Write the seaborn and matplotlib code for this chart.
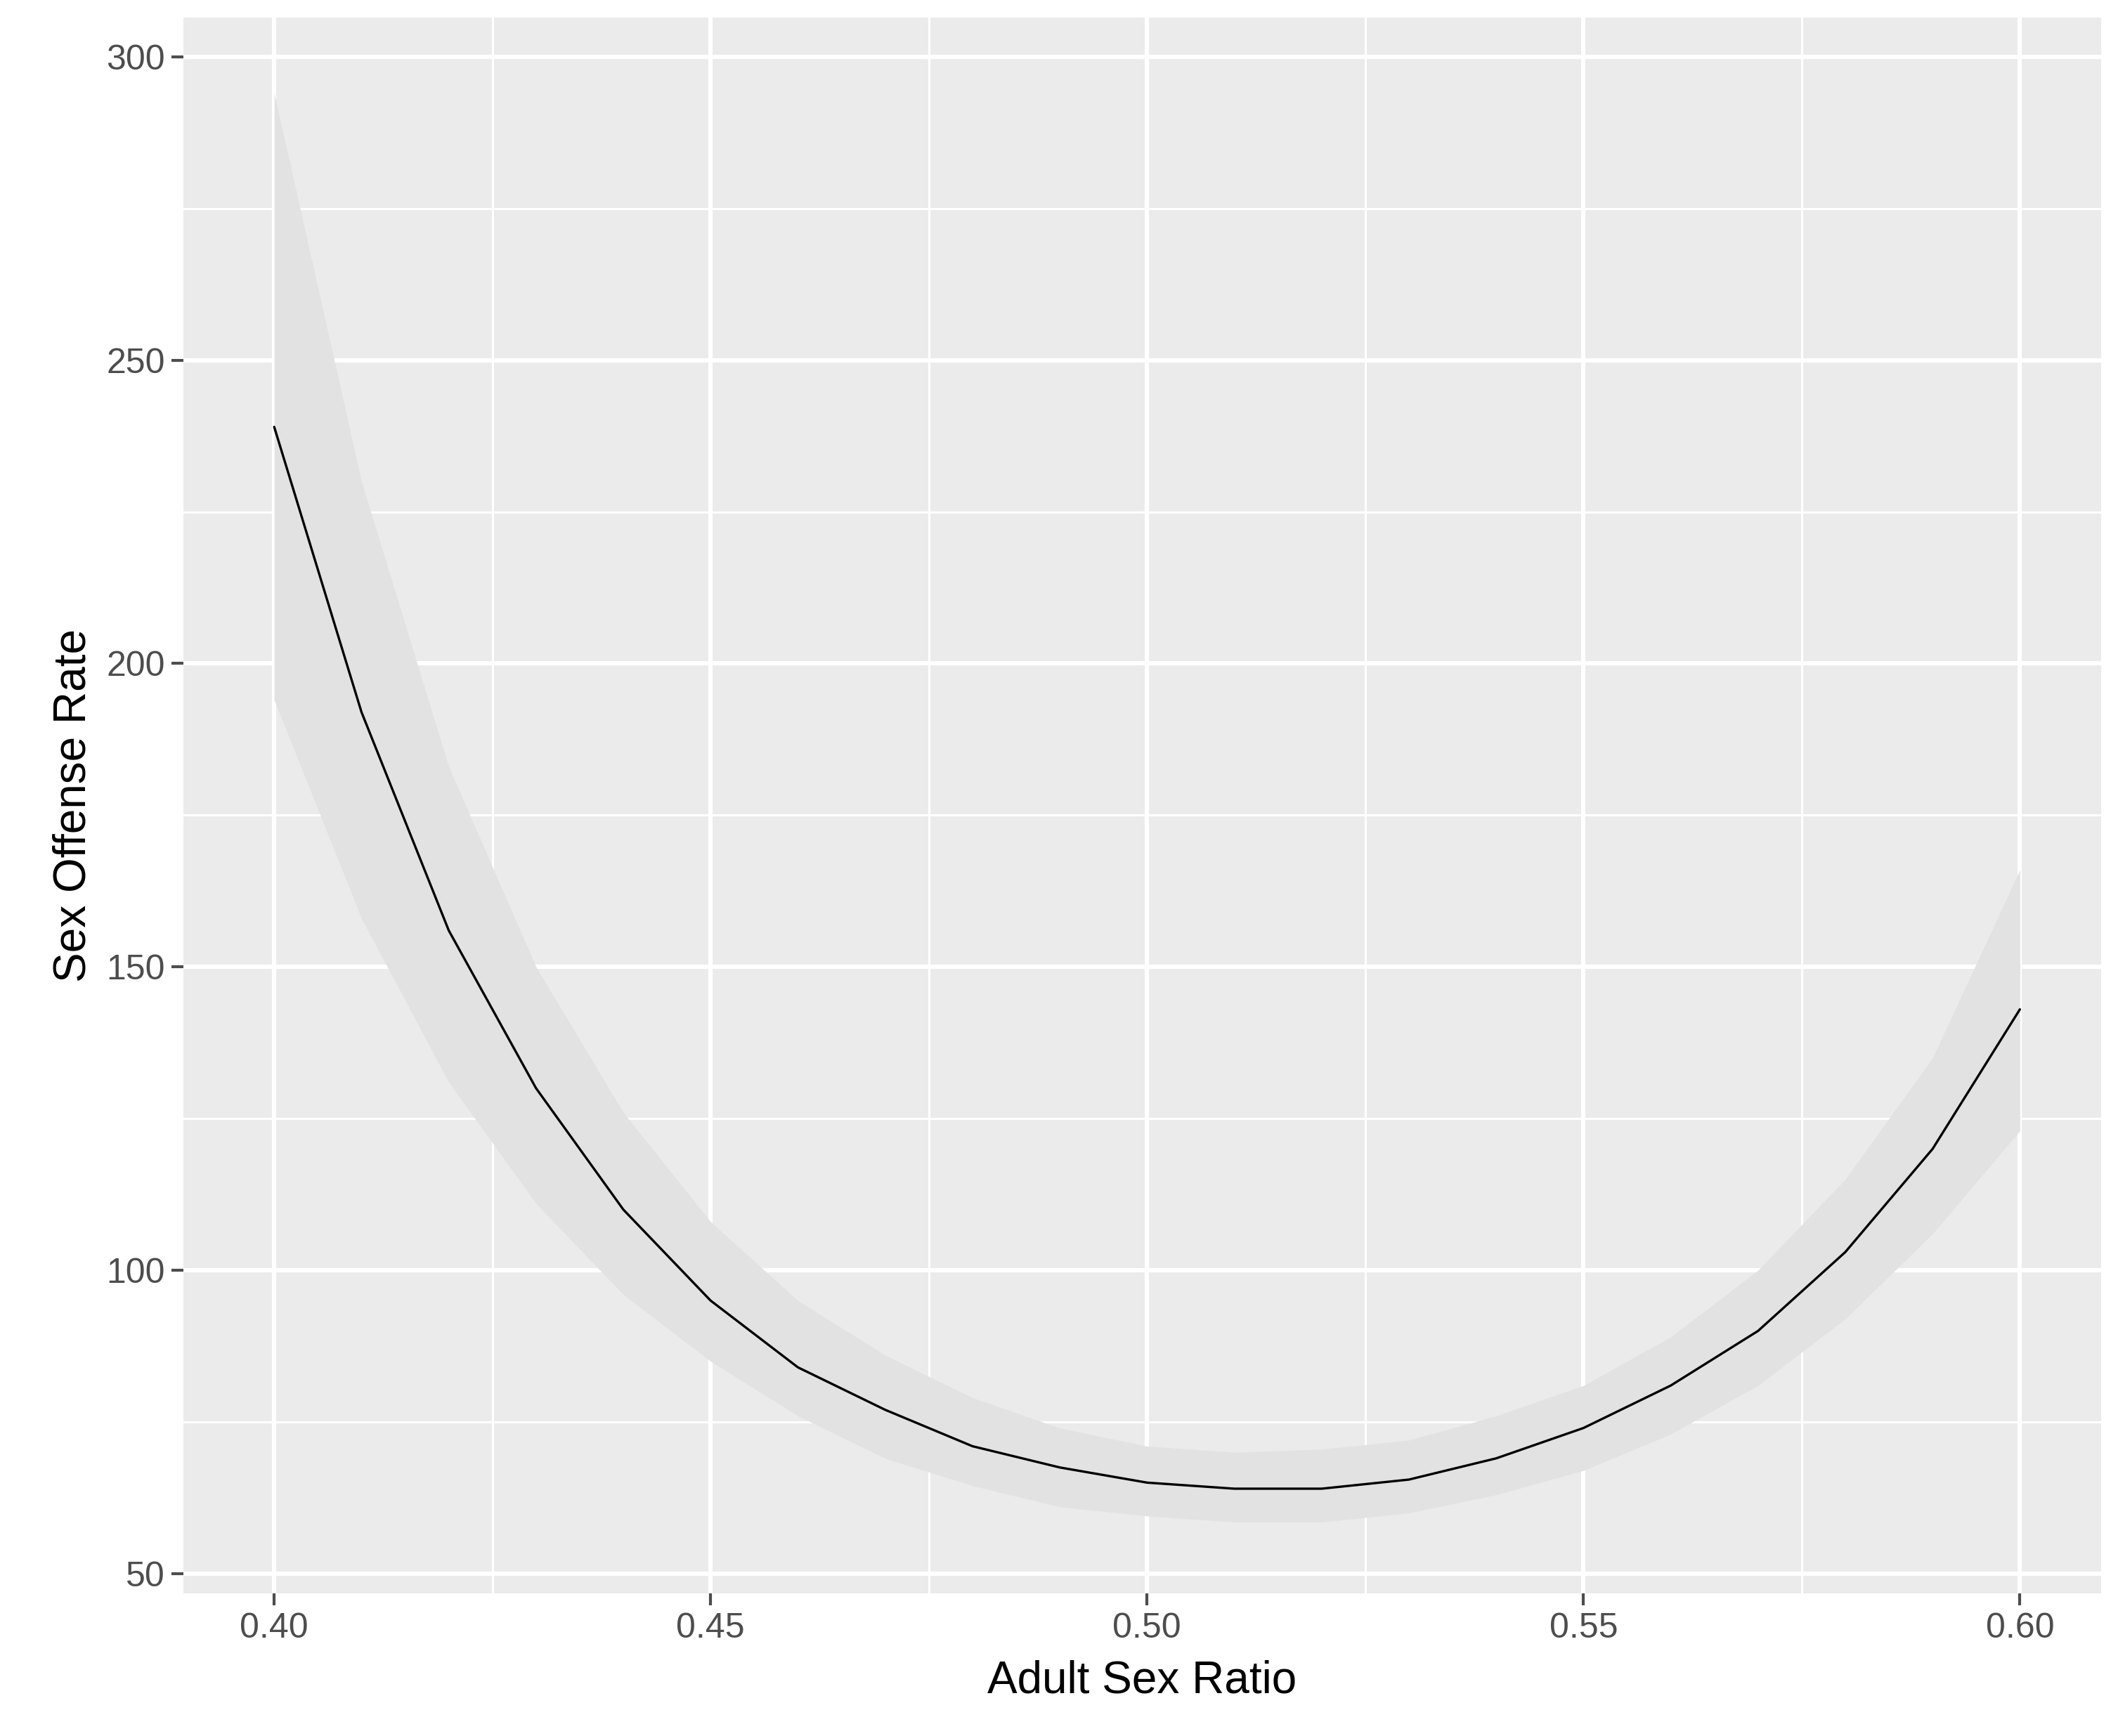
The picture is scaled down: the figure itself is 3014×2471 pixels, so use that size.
import matplotlib
matplotlib.use("Agg")
import matplotlib.pyplot as plt
import seaborn as sns
import numpy as np
import pandas as pd

x = [0.40,0.41,0.42,0.43,0.44,0.45,0.46,0.47,0.48,0.49,0.50,0.51,0.52,0.53,0.54,0.55,0.56,0.57,0.58,0.59,0.60]
fit = [239,192,156,130,110,95,84,77,71,67.5,65,64,64,65.5,69,74,81,90,103,120,143]
lower = [194,158,131,111,96,85,76,69,64.5,61,59.5,58.5,58.5,60,63,67,73,81,92,106,123]
upper = [294,230,183,150,126,108,95,86,79,74,71,70,70.5,72,76,81,89,100,115,135,166]

df = pd.DataFrame({"x": x, "fit": fit, "lower": lower, "upper": upper})

sns.set_theme(style="darkgrid", rc={"axes.facecolor": "#EBEBEB", "grid.color": "white"})
plt.rcParams['font.family'] = ['Liberation Sans', 'DejaVu Sans']

fig = plt.figure(figsize=(15.07, 12.355), dpi=200)
ax = fig.add_axes([0.0866, 0.082, 0.9054, 0.908])
ax.fill_between(df["x"], df["lower"], df["upper"], color="#E2E2E2", lw=0, zorder=2)
sns.lineplot(data=df, x="x", y="fit", color="black", lw=1.2, ax=ax, zorder=3)

ax.set_xlim(0.3896, 0.6093)
ax.set_ylim(46.7, 306.5)
ax.set_xticks([0.40, 0.45, 0.50, 0.55, 0.60])
ax.set_xticklabels(["0.40", "0.45", "0.50", "0.55", "0.60"])
ax.set_yticks([50, 100, 150, 200, 250, 300])
ax.set_xticks([0.425, 0.475, 0.525, 0.575], minor=True)
ax.set_yticks([75, 125, 175, 225, 275], minor=True)
ax.grid(which="major", color="white", lw=2.2)
ax.grid(which="minor", color="white", lw=1.1)
ax.set_axisbelow(True)
ax.tick_params(axis="both", which="major", labelsize=18, colors="#4D4D4D", length=6, width=1.5, direction="out", left=True, bottom=True)
ax.tick_params(axis="both", which="minor", length=0)
ax.set_xlabel("Adult Sex Ratio", fontsize=23, color="black", labelpad=8)
ax.set_ylabel("Sex Offense Rate", fontsize=23, color="black", labelpad=6)
for s in ax.spines.values():
    s.set_visible(False)

fig.savefig("out.png", dpi=200, facecolor="white")
